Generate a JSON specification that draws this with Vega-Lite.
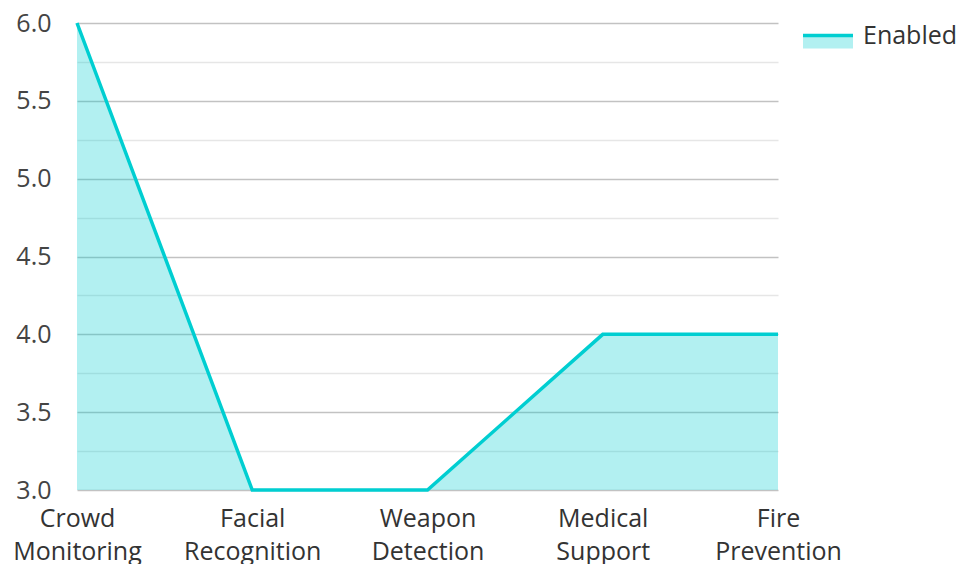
{
  "$schema": "https://vega.github.io/schema/vega-lite/v6.json",
  "width": 701,
  "height": 467,
  "autosize": {"type": "none"},
  "padding": {"left": 77, "top": 23, "right": 181, "bottom": 74},
  "background": "white",
  "config": {
    "view": {"stroke": null},
    "font": "Open Sans"
  },
  "data": {
    "values": [
      {"feature": "Crowd Monitoring", "value": 6, "series": "Enabled"},
      {"feature": "Facial Recognition", "value": 3, "series": "Enabled"},
      {"feature": "Weapon Detection", "value": 3, "series": "Enabled"},
      {"feature": "Medical Support", "value": 4, "series": "Enabled"},
      {"feature": "Fire Prevention", "value": 4, "series": "Enabled"}
    ]
  },
  "encoding": {
    "x": {
      "field": "feature",
      "type": "nominal",
      "sort": null,
      "scale": {"type": "point", "padding": 0},
      "axis": {
        "title": null,
        "domain": false,
        "ticks": false,
        "grid": false,
        "labelAngle": 0,
        "labelFont": "Open Sans",
        "labelFontSize": 25,
        "labelColor": "#333333",
        "labelPadding": 16,
        "labelLineHeight": 33,
        "labelBaseline": "top",
        "labelExpr": "split(datum.label, ' ')"
      }
    },
    "y": {
      "field": "value",
      "type": "quantitative",
      "scale": {"domain": [3, 6], "nice": false, "zero": false},
      "axis": {
        "title": null,
        "domain": false,
        "ticks": false,
        "values": [3, 3.25, 3.5, 3.75, 4, 4.25, 4.5, 4.75, 5, 5.25, 5.5, 5.75, 6],
        "labelExpr": "(datum.value * 2) % 1 === 0 ? format(datum.value, '.1f') : ''",
        "labelFont": "Open Sans",
        "labelFontSize": 25,
        "labelColor": "#444444",
        "labelPadding": 26,
        "gridColor": {"condition": {"test": "(datum.value * 2) % 1 === 0", "value": "#c2c2c2"}, "value": "#e6e6e6"},
        "gridWidth": 1.5
      }
    }
  },
  "layer": [
    {
      "mark": {"type": "area", "color": "#00CED1", "fillOpacity": 0.3},
      "encoding": {"y2": {"datum": 3}}
    },
    {
      "mark": {"type": "line", "strokeWidth": 3.5},
      "encoding": {
        "stroke": {
          "field": "series",
          "type": "nominal",
          "scale": {"range": ["#00CED1"]},
          "legend": {
            "title": null,
            "orient": "none",
            "legendX": 736.5,
            "legendY": -2,
            "symbolType": "M-2,0H2V1.04H-2Z",
            "symbolSize": 625,
            "symbolFillColor": "#b2f0f1",
            "symbolStrokeColor": "#00CED1",
            "symbolStrokeWidth": 3.5,
            "symbolDash": [50, 300],
            "symbolOpacity": 1,
            "labelFont": "Open Sans",
            "labelFontSize": 25,
            "labelColor": "#333333",
            "labelOffset": 20.5
          }
        }
      }
    }
  ]
}
